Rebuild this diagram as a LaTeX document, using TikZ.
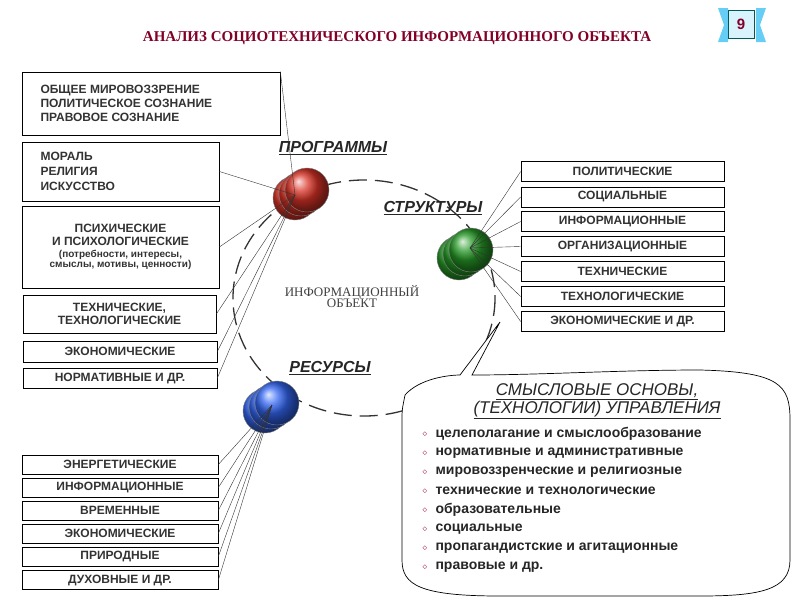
\documentclass[tikz,border=0pt]{standalone}
\usepackage{fontspec}
\setmainfont{Liberation Sans}
\newfontfamily\serifT{Liberation Serif}
\definecolor{sr}{rgb}{0.85,0.2,0.15}
\definecolor{sg}{rgb}{0.15,0.6,0.15}
\definecolor{sb}{rgb}{0.2,0.4,0.95}
\begin{document}
\begin{tikzpicture}[x=1pt,y=-1pt,
 bx/.style={draw,line width=0.7pt,fill=white,inner sep=0pt,font=\bfseries\fontsize{12}{13}\selectfont,text=black!80},
 ln/.style={line width=0.4pt,black!80},
 lab/.style={font=\bfseries\itshape\fontsize{16}{18}\selectfont,text=black!85},
 itm/.style={font=\bfseries\fontsize{14}{15}\selectfont,text=black!85,anchor=west}]
\useasboundingbox (0,0) rectangle (800,600);
% title
\node[font=\serifT\bfseries\fontsize{15}{16}\selectfont,text={rgb,255:red,130;green,0;blue,40}] (title) at (397,38) {АНАЛИЗ СОЦИОТЕХНИЧЕСКОГО ИНФОРМАЦИОННОГО ОБЪЕКТА};
% badge
\fill[cyan!60] (728,8)--(718,8)--(724,25)--(718,42)--(728,42)--cycle;
\fill[cyan!60] (756,8)--(766,8)--(760,25)--(766,42)--(756,42)--cycle;
\node[draw=teal!70!black,fill=cyan!15,minimum width=26pt,minimum height=28pt,font=\bfseries\fontsize{15}{16}\selectfont,text={rgb,255:red,130;green,0;blue,40}] (badge) at (741,24) {9};
% dashed circle
\draw[line width=1.3pt,dash pattern=on 18pt off 8pt,black!80] (364,298) ellipse (131 and 118);
% spheres
\foreach \c/\x/\y in {sr/307/190,sg/471/250,sb/277/403}{
 \shade[ball color=\c] (\x-12,\y+8) circle (22);
 \draw[black!50,line width=0.4pt] (\x-12,\y+8) circle (22);
 \shade[ball color=\c] (\x-6,\y+4) circle (22);
 \draw[black!50,line width=0.4pt] (\x-6,\y+4) circle (22);
 \shade[ball color=\c] (\x,\y) circle (22);
 \draw[black!50,line width=0.4pt] (\x,\y) circle (22);
}
\coordinate (R) at (295,195);
\coordinate (G) at (470,248);
\coordinate (B) at (272,405);
% labels
\node[lab] (prog) at (333,148) {\underline{ПРОГРАММЫ}};
\node[lab] (str) at (433,208) {\underline{СТРУКТУРЫ}};
\node[lab] (res) at (330,368) {\underline{РЕСУРСЫ}};
\node[font=\serifT\fontsize{13}{14}\selectfont,align=center,text=black!75] (io) at (352,297) {ИНФОРМАЦИОННЫЙ\\[-3pt]ОБЪЕКТ};
% left boxes
\node[bx,minimum width=258pt,minimum height=63pt] (l1) at (151,103.5) {};
\node[anchor=west,font=\bfseries\fontsize{12}{14}\selectfont,align=left,text=black!80] at (37,103.5) {ОБЩЕЕ МИРОВОЗЗРЕНИЕ\\ПОЛИТИЧЕСКОЕ СОЗНАНИЕ\\ПРАВОВОЕ СОЗНАНИЕ};
\node[bx,minimum width=197pt,minimum height=59pt] (l2) at (120.5,171.5) {};
\node[anchor=west,font=\bfseries\fontsize{12}{15}\selectfont,align=left,text=black!80] at (37,171.5) {МОРАЛЬ\\РЕЛИГИЯ\\ИСКУССТВО};
\node[bx,minimum width=197pt,minimum height=82pt,align=center] (l3) at (120.5,247) {ПСИХИЧЕСКИЕ\\И ПСИХОЛОГИЧЕСКИЕ\\[-1pt]{\fontsize{10}{12}\selectfont (потребности, интересы,}\\[-3pt]{\fontsize{10}{12}\selectfont смыслы, мотивы, ценности)}};
\node[bx,minimum width=193pt,minimum height=38pt,align=center] (l4) at (119.5,314) {ТЕХНИЧЕСКИЕ,\\ТЕХНОЛОГИЧЕСКИЕ};
\node[bx,minimum width=194pt,minimum height=21pt] (l5) at (120,351.5) {ЭКОНОМИЧЕСКИЕ};
\node[bx,minimum width=194pt,minimum height=20pt] (l6) at (120,378) {НОРМАТИВНЫЕ И ДР.};
\foreach \b in {l2,l3,l4,l5,l6}{\draw[ln] (\b.east) -- (R);}
\draw[ln] (l1.north east) -- (R);
% bottom-left boxes
\foreach \t/\y/\n in {ЭНЕРГЕТИЧЕСКИЕ/464.5/b1,ИНФОРМАЦИОННЫЕ/487.5/b2,ВРЕМЕННЫЕ/510.5/b3,ЭКОНОМИЧЕСКИЕ/533.5/b4,ПРИРОДНЫЕ/556.5/b5,ДУХОВНЫЕ И ДР./580/b6}{
 \node[bx,minimum width=196pt,minimum height=19pt] (\n) at (120,\y) {\t};
 \draw[ln] (\n.east) -- (B);
}
% right boxes
\foreach \t/\y/\n in {ПОЛИТИЧЕСКИЕ/171.5/r1,СОЦИАЛЬНЫЕ/197/r2,ИНФОРМАЦИОННЫЕ/221.5/r3,ОРГАНИЗАЦИОННЫЕ/246.5/r4,ТЕХНИЧЕСКИЕ/271.5/r5,ТЕХНОЛОГИЧЕСКИЕ/296.5/r6,ЭКОНОМИЧЕСКИЕ И ДР./321.5/r7}{
 \node[bx,minimum width=203pt,minimum height=20pt] (\n) at (622.5,\y) {\t};
 \draw[ln] (\n.west) -- (G);
}
% callout
\coordinate (tip) at (500,322);
\draw[line width=0.7pt,fill=white] (405,395) .. controls (420,378) and (450,375) .. (460,375)
 -- (tip) -- (472,375) .. controls (540,375) and (620,370) .. (700,370)
 .. controls (780,372) and (790,385) .. (790,420) -- (790,560)
 .. controls (790,590) and (760,596) .. (700,596) -- (500,596)
 .. controls (420,596) and (402,585) .. (402,560) -- (402,420) .. controls (402,410) .. (405,395) -- cycle;
\node[font=\itshape\fontsize{17}{18}\selectfont,align=center,text=black!85] (hd) at (597,401) {\underline{СМЫСЛОВЫЕ ОСНОВЫ,}\\\underline{(ТЕХНОЛОГИИ) УПРАВЛЕНИЯ}};
\foreach \t [count=\i] in {целеполагание и смыслообразование,нормативные и административные,мировоззренческие и религиозные,технические и технологические,образовательные,социальные,пропагандистские и агитационные,правовые и др.}{
 \node[itm] (i\i) at (432,434+\i*19-19) {\t};
 \node[text={rgb,255:red,150;green,0;blue,60},font=\fontsize{9}{9}\selectfont] at (425,434+\i*19-19) {$\diamond$};
}
\end{tikzpicture}
\end{document}
